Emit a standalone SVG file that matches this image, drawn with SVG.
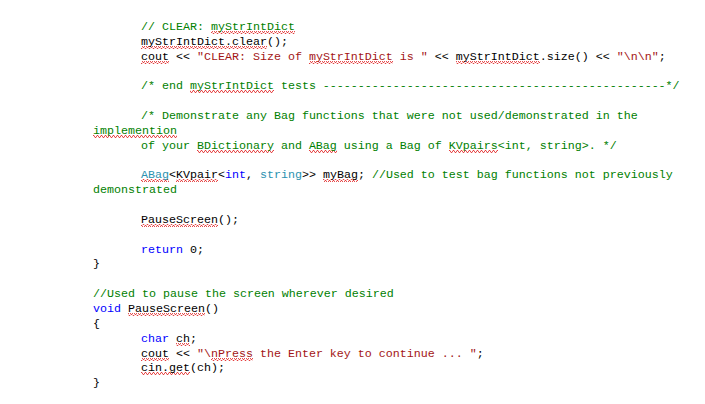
<svg xmlns="http://www.w3.org/2000/svg" width="705" height="404" viewBox="0 0 705 404">
<defs>
<pattern id="sq" width="4" height="3" patternUnits="userSpaceOnUse"><path d="M0,2.5 L1,0.5 L2,0.5 L3,2.5 L4,2.5" fill="none" stroke="#e02020" stroke-width="0.8"/></pattern>
</defs>
<style>
text{font-family:"Liberation Mono","DejaVu Sans Mono",monospace;font-size:11.67px;fill:#000;white-space:pre}
.c{fill:#008000}.s{fill:#a31515}.k{fill:#0000ff}.t{fill:#2b91af}
.w{fill:url(#sq)}
</style>
<rect width="705" height="404" fill="#fff"/>
<g id="squiggles">
<rect class="w" x="211" y="31" width="84" height="3"/>
<rect class="w" x="141" y="46" width="126" height="3"/>
<rect class="w" x="141" y="61" width="28" height="3"/>
<rect class="w" x="309" y="61" width="84" height="3"/>
<rect class="w" x="456" y="61" width="84" height="3"/>
<rect class="w" x="190" y="90" width="84" height="3"/>
<rect class="w" x="93" y="135" width="84" height="3"/>
<rect class="w" x="197" y="150" width="77" height="3"/>
<rect class="w" x="309" y="150" width="28" height="3"/>
<rect class="w" x="449" y="150" width="49" height="3"/>
<rect class="w" x="141" y="179" width="28" height="3"/>
<rect class="w" x="176" y="179" width="42" height="3"/>
<rect class="w" x="323" y="179" width="35" height="3"/>
<rect class="w" x="141" y="224" width="77" height="3"/>
<rect class="w" x="128" y="313" width="77" height="3"/>
<rect class="w" x="176" y="343" width="14" height="3"/>
<rect class="w" x="141" y="358" width="28" height="3"/>
<rect class="w" x="211" y="358" width="42" height="3"/>
<rect class="w" x="141" y="372" width="49" height="3"/>
</g>
<g id="code">
<text x="141" y="30" class="c">// CLEAR: myStrIntDict</text>
<text x="141" y="45">myStrIntDict.clear();</text>
<text x="141" y="60">cout &lt;&lt; <tspan class="s">"CLEAR: Size of myStrIntDict is "</tspan> &lt;&lt; myStrIntDict.size() &lt;&lt; <tspan class="s">"\n\n"</tspan>;</text>
<text x="141" y="89" class="c">/* end myStrIntDict tests -------------------------------------------------*/</text>
<text x="141" y="119" class="c">/* Demonstrate any Bag functions that were not used/demonstrated in the</text>
<text x="93" y="134" class="c">implemention</text>
<text x="141" y="149" class="c">of your BDictionary and ABag using a Bag of KVpairs&lt;int, string&gt;. */</text>
<text x="141" y="178"><tspan class="t">ABag</tspan>&lt;KVpair&lt;<tspan class="k">int</tspan>, <tspan class="t">string</tspan>&gt;&gt; myBag; <tspan class="c">//Used to test bag functions not previously</tspan></text>
<text x="93" y="193" class="c">demonstrated</text>
<text x="141" y="223">PauseScreen();</text>
<text x="141" y="253"><tspan class="k">return</tspan> 0;</text>
<text x="93" y="267">}</text>
<text x="93" y="297" class="c">//Used to pause the screen wherever desired</text>
<text x="93" y="312"><tspan class="k">void</tspan> PauseScreen()</text>
<text x="93" y="327">{</text>
<text x="141" y="342"><tspan class="k">char</tspan> ch;</text>
<text x="141" y="357">cout &lt;&lt; <tspan class="s">"\nPress the Enter key to continue ... "</tspan>;</text>
<text x="141" y="371">cin.get(ch);</text>
<text x="93" y="386">}</text>
</g>
</svg>
